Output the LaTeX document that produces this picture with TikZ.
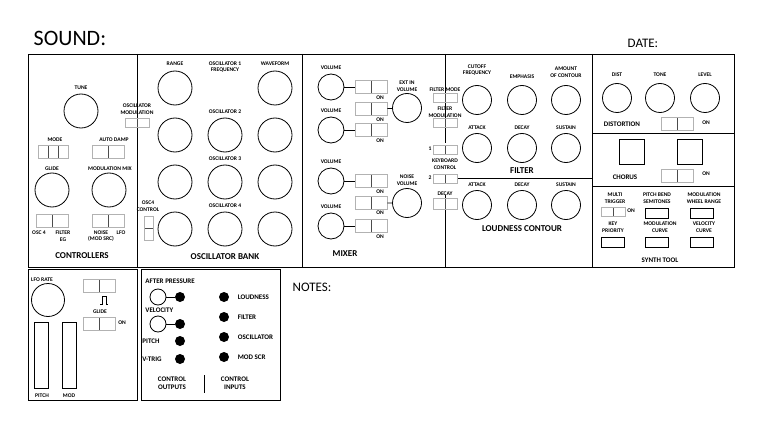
\documentclass[tikz,border=0pt]{standalone}
\usepackage{fontspec}
\setmainfont{Carlito}
\usetikzlibrary{positioning}

\tikzset{
  knob/.style={circle,draw,thick,minimum size=34pt,inner sep=0pt},
  sknob/.style={circle,draw,thick,minimum size=29pt,inner sep=0pt},
  vknob/.style={circle,draw,thick,minimum size=26pt,inner sep=0pt},
  tknob/.style={circle,draw,thick,minimum size=16pt,inner sep=0pt},
  jack/.style={circle,fill=black,minimum size=10pt,inner sep=0pt},
  lbl/.style={font=\fontsize{5.6}{6.6}\selectfont\bfseries,align=center,inner sep=0pt},
  mlbl/.style={font=\fontsize{7}{8}\selectfont\bfseries,align=center,inner sep=0pt},
  ttl/.style={font=\fontsize{9}{10}\selectfont\bfseries,inner sep=0pt},
  tog/.style={draw=gray!60,minimum width=32pt,minimum height=13pt,inner sep=0pt,
    path picture={\draw[black!70] (path picture bounding box.north) -- (path picture bounding box.south);}},
  stog/.style={tog,minimum width=24pt,minimum height=9pt},
  vtog/.style={draw=gray!60,minimum width=9pt,minimum height=24pt,inner sep=0pt,
    path picture={\draw[black!70] (path picture bounding box.west) -- (path picture bounding box.east);}},
  ttog/.style={draw=gray!60,minimum width=30pt,minimum height=13pt,inner sep=0pt,
    path picture={\draw[black!70] ([xshift=10pt]path picture bounding box.north west) -- ([xshift=10pt]path picture bounding box.south west)
      ([xshift=-10pt]path picture bounding box.north east) -- ([xshift=-10pt]path picture bounding box.south east);}},
  slot/.style={draw,thick,minimum width=23pt,minimum height=10pt,inner sep=0pt},
}

\begin{document}
\begin{tikzpicture}[x=1pt,y=-1pt,thick]
\useasboundingbox (0,0) rectangle (768,433);

% title
\node[font=\fontsize{22}{24}\selectfont,anchor=west] (sound) at (30,38) {SOUND:};
\node[font=\fontsize{13}{14}\selectfont,anchor=west] (date) at (624,43) {DATE:};
\node[font=\fontsize{13}{14}\selectfont,anchor=west] (notes) at (289,287) {NOTES:};

% frames
\draw (28,54) rectangle (734,267);
\draw (137,54) -- (137,267) (302,54) -- (302,267) (592,54) -- (592,267);
\draw (445,54) -- (445,143) (445,195) -- (445,267) (457,178) -- (592,178);
\draw (592,133) -- (734,133) (592,186) -- (734,186);
\draw (28,269) rectangle (137,400);
\draw (141,269) rectangle (280,400);

% controllers
\node[lbl] (tunel) at (81,88) {TUNE};
\node[knob] (tune) at (81,111) {};
\node[lbl] (model) at (55,140) {MODE};
\node[ttog] (mode) at (53,152) {};
\node[lbl] (dampl) at (114,140) {AUTO DAMP};
\node[tog] (damp) at (108,152) {};
\node[lbl] (glidel) at (52,169) {GLIDE};
\node[knob] (glide) at (52,190) {};
\node[lbl] (mixl) at (110,169) {MODULATION MIX};
\node[knob] (modmix) at (109,190) {};
\node[tog] (glsw) at (52,221) {};
\node[tog] (mmsw) at (108,221) {};
\node[lbl] at (39,233) {OSC 4};
\node[lbl] at (63,236) {FILTER\\EG};
\node[lbl] at (101,236) {NOISE\\(MOD SRC)};
\node[lbl] at (121,233) {LFO};
\node[ttl] (ctrl) at (82,256) {CONTROLLERS};

% oscillator bank
\node[lbl] at (137,109) {OSCILLATOR\\MODULATION};
\node[stog,fill=white] (oscmod) at (137,123) {};
\node[lbl] at (175,64) {RANGE};
\node[lbl] at (225,67) {OSCILLATOR 1\\FREQUENCY};
\node[lbl] at (275,64) {WAVEFORM};
\node[knob] (range) at (175,88) {};
\node[knob] (wave) at (275,88) {};
\foreach \n/\y in {2/135,3/182,4/229}{
  \node[lbl] at (225,\y-23) {OSCILLATOR \n};
  \foreach \c/\x in {a/175,b/225,c/275}
    \node[knob] (osc\n\c) at (\x,\y) {};
}
\node[lbl] at (148,206) {OSC4\\CONTROL};
\node[vtog] (osc4sw) at (149,228) {};
\node[ttl] (oscbank) at (225,257) {OSCILLATOR BANK};

% mixer
\foreach \i/\y in {1/87,2/130,3/181,4/226}{
  \node[lbl] at (331,\y-19) {VOLUME};
  \node[vknob] (vol\i) at (331,\y) {};
}
\foreach \i/\y in {1/87,2/130,3/181,4/226}{
  \node[tog] (vsw\i) at (371,\y) {};
  \node[lbl] at (380,\y+11) {ON};
  \draw (vol\i) -- (vsw\i);
}
\node[tog] (extsw) at (371,109) {};
\node[lbl] at (380,120) {ON};
\node[tog] (noisw) at (371,203) {};
\node[lbl] at (380,213) {ON};
\node[lbl] at (407,86) {EXT IN\\VOLUME};
\node[sknob] (ext) at (407,108) {};
\node[lbl] at (407,180) {NOISE\\VOLUME};
\node[sknob] (noise) at (407,203) {};
\draw (extsw) -- (ext) (noisw) -- (noise);
\node[ttl] (mixer) at (345,254) {MIXER};

% filter switches
\node[lbl] at (445,90) {FILTER MODE};
\node[stog,fill=white] (fmode) at (445,98) {};
\node[lbl] at (445,112) {FILTER\\MODULATION};
\node[stog] (fmod) at (445,123) {};
\node[lbl] at (430,149) {1};
\node[stog,fill=white] (kb1) at (445,150) {};
\node[lbl] at (445,164) {KEYBOARD\\CONTROL};
\node[lbl] at (430,178) {2};
\node[stog,fill=white] (kb2) at (445,179) {};
\node[lbl] at (445,194) {DECAY};
\node[stog,minimum height=11pt] (decsw) at (445,204) {};

% filter and loudness contour
\node[lbl] at (477,70) {CUTOFF\\FREQUENCY};
\node[lbl] at (522,77) {EMPHASIS};
\node[lbl] at (566,72) {AMOUNT\\OF CONTOUR};
\foreach \c/\x in {a/477,b/522,c/566}{
  \node[sknob] (flt\c) at (\x,100) {};
  \node[sknob] (fenv\c) at (\x,148) {};
  \node[sknob] (lenv\c) at (\x,205) {};
}
\foreach \t/\x in {ATTACK/477,DECAY/522,SUSTAIN/566}{
  \node[lbl] at (\x,128) {\t};
  \node[lbl] at (\x,185) {\t};
}
\node[ttl] (filter) at (522,171) {FILTER};
\node[ttl] (loud) at (522,229) {LOUDNESS CONTOUR};

% distortion, chorus, synth tool
\foreach \t/\x in {DIST/617,TONE/660,LEVEL/705}{
  \node[lbl] at (\x,75) {\t};
  \node[sknob] (d\t) at (\x,98) {};
}
\node[ttl,font=\fontsize{7}{8}\selectfont\bfseries] (dist) at (622,124) {DISTORTION};
\node[tog] (distsw) at (677,124) {};
\node[lbl] at (706,123) {ON};
\node[draw,thick,minimum size=25pt,inner sep=0pt] (ch1) at (632,152) {};
\node[draw,thick,minimum size=25pt,inner sep=0pt] (ch2) at (690,152) {};
\node[ttl,font=\fontsize{7}{8}\selectfont\bfseries] (chorus) at (625,177) {CHORUS};
\node[tog] (chsw) at (677,176) {};
\node[lbl] at (706,174) {ON};
\node[lbl] at (615,198) {MULTI\\TRIGGER};
\node[stog] (multi) at (613,212) {};
\node[lbl] at (631,211) {ON};
\node[lbl] at (657,198) {PITCH BEND\\SEMITONES};
\node[slot] (pbend) at (657,213) {};
\node[lbl] at (704,198) {MODULATION\\WHEEL RANGE};
\node[slot] (mwheel) at (702,213) {};
\node[lbl] at (613,227) {KEY\\PRIORITY};
\node[slot] (keyp) at (613,242) {};
\node[lbl] at (660,227) {MODULATION\\CURVE};
\node[slot] (mcurve) at (657,242) {};
\node[lbl] at (704,227) {VELOCITY\\CURVE};
\node[slot] (vcurve) at (702,242) {};
\node[ttl,font=\fontsize{7}{8}\selectfont\bfseries] (synth) at (660,260) {SYNTH TOOL};

% lfo panel
\node[lbl] at (42,280) {LFO RATE};
\node[circle,draw,thick,minimum size=33pt,inner sep=0pt] (lfo) at (48,300) {};
\node[tog] (lfosw) at (99,286) {};
\draw[thin] (100,304) -- (102,304) -- (102,296) -- (106,296) -- (106,304) -- (108,304);
\node[lbl] at (100,312) {GLIDE};
\node[tog] (lfogl) at (99,324) {};
\node[lbl] at (122,323) {ON};
\node[draw,thick,minimum width=14pt,minimum height=66pt,inner sep=0pt] (pitchw) at (41,355) {};
\node[draw,thick,minimum width=14pt,minimum height=66pt,inner sep=0pt] (modw) at (69,355) {};
\node[lbl] at (42,396) {PITCH};
\node[lbl] at (69,396) {MOD};

% control outputs / inputs
\node[mlbl,anchor=west] at (145,281) {AFTER PRESSURE};
\node[tknob] (apk) at (158,297) {};
\node[jack] (apj) at (180,297) {};
\node[mlbl,anchor=west] at (145,310) {VELOCITY};
\node[tknob] (velk) at (158,324) {};
\node[jack] (velj) at (180,324) {};
\draw (apk) -- (apj) (velk) -- (velj);
\node[mlbl] at (151,341) {PITCH};
\node[jack] (pitchj) at (180,341) {};
\node[mlbl] at (152,359) {V-TRIG};
\node[jack] (vtrigj) at (180,359) {};
\foreach \t/\y in {LOUDNESS/297,FILTER/317,OSCILLATOR/337,MOD SCR/357}{
  \node[jack] (in\y) at (224,\y) {};
  \node[mlbl,right=8pt of in\y] {\t};
}
\node[mlbl] (cout) at (172,383) {CONTROL\\OUTPUTS};
\node[mlbl] (cin) at (235,383) {CONTROL\\INPUTS};
\draw (204,375) -- (204,393);
\end{tikzpicture}
\end{document}
